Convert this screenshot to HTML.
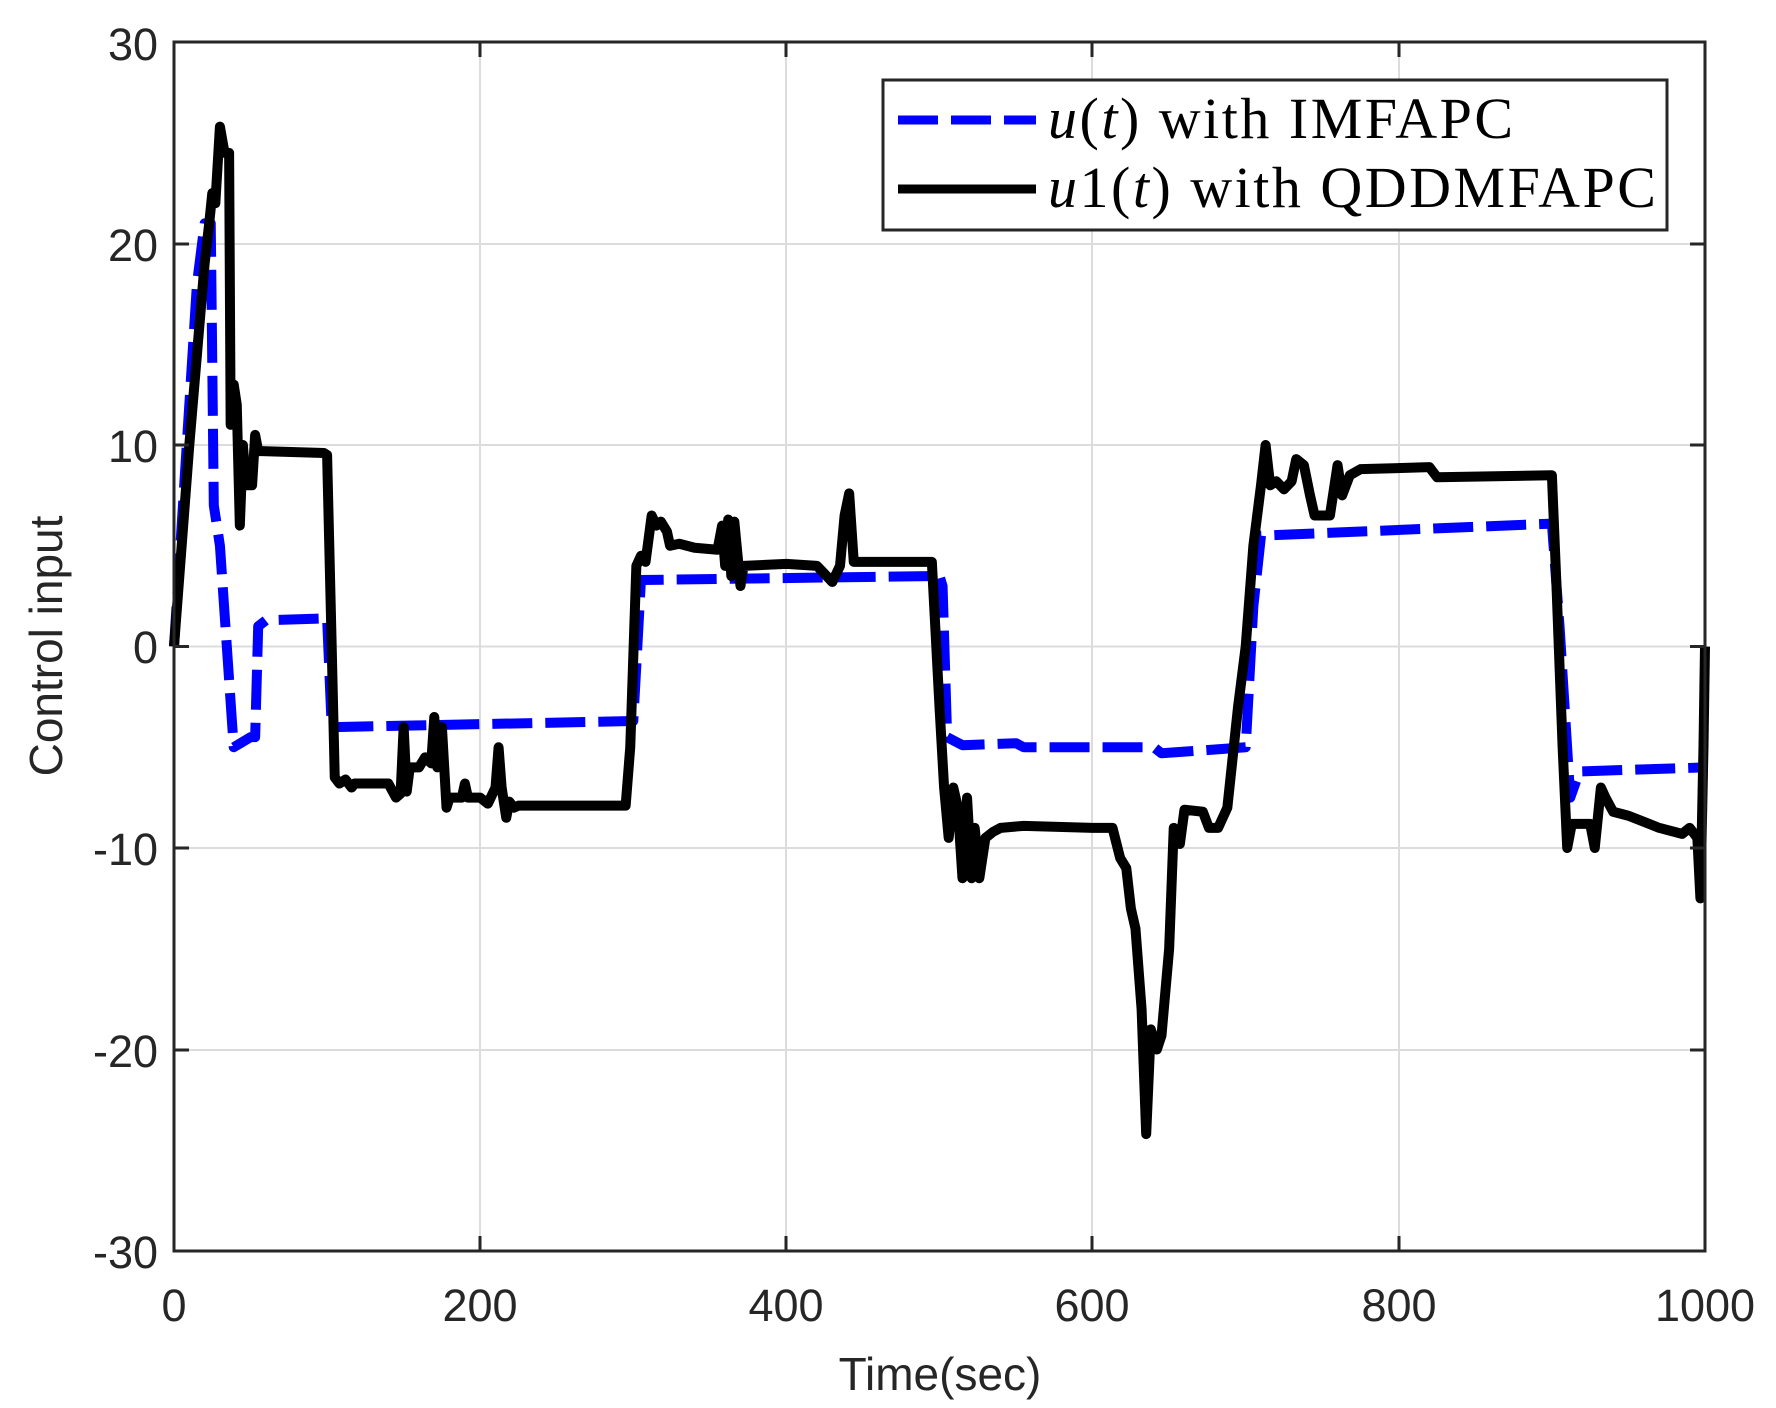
<!DOCTYPE html>
<html><head><meta charset="utf-8"><style>
body{margin:0;background:#fff}
svg{display:block}
.t{font-family:"Liberation Sans",sans-serif;font-size:45px;fill:#262626}
.l{font-family:"Liberation Serif",serif;font-size:58px;fill:#000;letter-spacing:2.5px}
</style></head><body>
<svg width="1776" height="1408" xmlns="http://www.w3.org/2000/svg">
<rect width="1776" height="1408" fill="#fff"/>
<g stroke="#dcdcdc" stroke-width="2">
<line x1="480" y1="42" x2="480" y2="1251"/><line x1="786" y1="42" x2="786" y2="1251"/><line x1="1092" y1="42" x2="1092" y2="1251"/><line x1="1399" y1="42" x2="1399" y2="1251"/>
<line x1="174" y1="244" x2="1705" y2="244"/><line x1="174" y1="445" x2="1705" y2="445"/><line x1="174" y1="646.5" x2="1705" y2="646.5"/><line x1="174" y1="848" x2="1705" y2="848"/><line x1="174" y1="1050" x2="1705" y2="1050"/>
</g>
<g transform="matrix(1.531,0,0,-20.15,174,646.5)" fill="none" stroke-linejoin="round">
<polyline vector-effect="non-scaling-stroke" stroke="#0000ff" stroke-width="10" stroke-dasharray="40 13" points="0,0 15,18 20,21 24,21 26,7 30,5 39,-5 50,-4.5 53,-4.5 55,1 60,1.3 100,1.4 103,-4 300,-3.7 305,3.3 500,3.5 502,3 505,-4.5 515,-4.9 550,-4.8 555,-5 640,-5 645,-5.3 700,-5 705,2 710,5.5 900,6.1 905,1 912,-7.5 918,-6.2 1000,-6"/>
<polyline vector-effect="non-scaling-stroke" stroke="#000" stroke-width="10" points="0,0 10,10 20,19 23,21 25,22.5 27,22 30,25.8 33,24.5 36,24.5 37,11 39,13 41,12 43,6 45,10 47,8 51,8 53,10.5 55,9.7 98,9.6 100,9.5 103,0 105,-6.5 108,-6.8 112,-6.6 116,-7 118,-6.8 140,-6.8 145,-7.5 148,-7.3 150,-4 152,-7.2 154,-6 160,-6 164,-5.5 168,-5.8 170,-3.5 172,-6 175,-4 178,-8 180,-7.5 188,-7.5 190,-6.8 192,-7.5 200,-7.5 205,-7.8 210,-7 212,-5 214,-7 217,-8.5 219,-7.7 222,-8 225,-7.9 295,-7.9 298,-5 302,4 305,4.5 308,4.2 312,6.5 315,6 318,6.2 322,5.7 324,5 330,5.1 340,4.9 355,4.8 358,6 360,4 362,6.3 364,3.5 366,6.2 370,3 372,4 400,4.1 420,4 425,3.6 430,3.2 435,4 438,6.5 441,7.6 444,4.2 450,4.2 495,4.2 500,-3 503,-7 506,-9.5 509,-7 512,-8 515,-11.5 518,-7.5 521,-11.5 523,-9 526,-11.5 530,-9.5 535,-9.2 540,-9 555,-8.9 600,-9 613,-9 618,-10.5 622,-11 625,-13 628,-14 632,-18 635,-24.2 638,-19 642,-20 645,-19.3 650,-15 653,-9 657,-9.8 660,-8.1 672,-8.2 676,-9 682,-9 688,-8 695,-3 700,0 705,5 710,8 713,10 716,8 720,8.2 725,7.8 730,8.2 733,9.3 738,9 742,7.5 745,6.5 755,6.5 760,9 763,7.5 768,8.5 775,8.8 820,8.9 825,8.4 900,8.5 903,3 907,-5 910,-10 913,-8.8 925,-8.8 928,-10 932,-7 935,-7.5 940,-8.2 950,-8.4 970,-9 985,-9.3 990,-9 995,-9.5 997,-12.5 999,-5 1000,0"/>
</g>
<g stroke="#262626" stroke-width="3" fill="none">
<rect x="174" y="42" width="1531" height="1209"/>
<path d="M480,1251v-15M786,1251v-15M1092,1251v-15M1399,1251v-15M480,42v15M786,42v15M1092,42v15M1399,42v15M174,244h15M174,445h15M174,646.5h15M174,848h15M174,1050h15M1705,244h-15M1705,445h-15M1705,646.5h-15M1705,848h-15M1705,1050h-15"/>
</g>
<g class="t" text-anchor="end">
<text x="158" y="60">30</text><text x="158" y="261">20</text><text x="158" y="462">10</text><text x="158" y="663">0</text><text x="158" y="865">-10</text><text x="158" y="1067">-20</text><text x="158" y="1268">-30</text>
</g>
<g class="t" text-anchor="middle">
<text x="174" y="1321">0</text><text x="480" y="1321">200</text><text x="786" y="1321">400</text><text x="1092" y="1321">600</text><text x="1399" y="1321">800</text><text x="1705" y="1321">1000</text>
<text x="940" y="1390" style="font-size:46px">Time(sec)</text>
<text transform="translate(62,646) rotate(-90)" style="font-size:46px">Control input</text>
</g>
<rect x="883" y="80" width="784" height="150" fill="#fff" stroke="#262626" stroke-width="3"/>
<line x1="898" y1="120" x2="1036" y2="120" stroke="#0000ff" stroke-width="9" stroke-dasharray="40 13"/>
<line x1="898" y1="189" x2="1036" y2="189" stroke="#000" stroke-width="9"/>
<text class="l" x="1048" y="138"><tspan font-style="italic">u</tspan>(<tspan font-style="italic">t</tspan>) with IMFAPC</text>
<text class="l" x="1048" y="207"><tspan font-style="italic">u</tspan>1(<tspan font-style="italic">t</tspan>) with QDDMFAPC</text>
</svg>
</body></html>
